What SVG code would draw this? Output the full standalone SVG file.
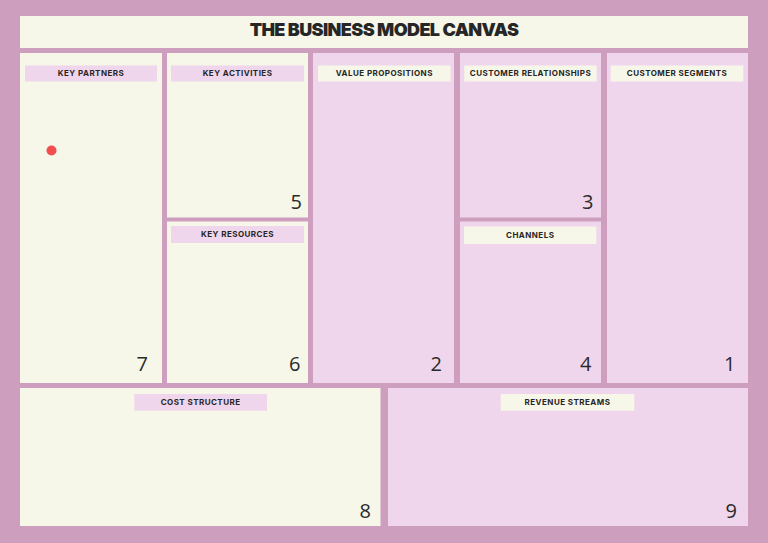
<svg xmlns="http://www.w3.org/2000/svg" width="768" height="543" viewBox="0 0 768 543">
<style>
.cream{fill:#f6f7e9}
.pink{fill:#f0d6ec}
.lbl{font-family:Inter,"Liberation Sans",sans-serif;font-weight:700;font-size:8px;letter-spacing:0.45px;fill:#262626;text-anchor:middle}
.num{font-family:"Open Sans","Liberation Sans",sans-serif;font-weight:400;font-size:20px;fill:#2a2a2a;text-anchor:end}
.title{font-family:Inter,"Liberation Sans",sans-serif;font-weight:900;font-size:18px;letter-spacing:-0.6px;fill:#262626;text-anchor:middle}
</style>
<rect width="768" height="543" fill="#ce9ebe"/>
<g id="title">
<rect class="cream" x="20" y="16" width="728" height="32"/>
<text class="title" x="384" y="36">THE BUSINESS MODEL CANVAS</text>
</g>
<g id="key-partners">
<rect class="cream" x="20" y="53" width="142" height="330"/>
<rect class="pink" x="25" y="65.5" width="132" height="16"/>
<text class="lbl" x="91" y="76.3">KEY PARTNERS</text>
<circle cx="51.5" cy="150.5" r="5" fill="#f24e4e"/>
<text class="num" x="148" y="371">7</text>
</g>
<g id="key-activities">
<rect class="cream" x="167" y="53" width="141" height="164.5"/>
<rect class="pink" x="171" y="65.5" width="133" height="16"/>
<text class="lbl" x="237.5" y="76.3">KEY ACTIVITIES</text>
<text class="num" x="302" y="209">5</text>
</g>
<g id="key-resources">
<rect class="cream" x="167" y="221.5" width="141" height="161.5"/>
<rect class="pink" x="171" y="226" width="133" height="17"/>
<text class="lbl" x="237.5" y="237.3">KEY RESOURCES</text>
<text class="num" x="300.5" y="371">6</text>
</g>
<g id="value-propositions">
<rect class="pink" x="313" y="53" width="141" height="330"/>
<rect class="cream" x="318" y="65.5" width="132.5" height="16"/>
<text class="lbl" x="384.3" y="76.3">VALUE PROPOSITIONS</text>
<text class="num" x="442" y="371">2</text>
</g>
<g id="customer-relationships">
<rect class="pink" x="460" y="53" width="141" height="164.5"/>
<rect class="cream" x="464.3" y="65.5" width="132.4" height="16"/>
<text class="lbl" x="530.5" y="76.3">CUSTOMER RELATIONSHIPS</text>
<text class="num" x="593.5" y="209">3</text>
</g>
<g id="channels">
<rect class="pink" x="460" y="221.5" width="141" height="161.5"/>
<rect class="cream" x="464" y="226.5" width="132.3" height="17.5"/>
<text class="lbl" x="530.2" y="237.8">CHANNELS</text>
<text class="num" x="591.5" y="371">4</text>
</g>
<g id="customer-segments">
<rect class="pink" x="607" y="53" width="141" height="330"/>
<rect class="cream" x="610.7" y="65.5" width="132.6" height="16"/>
<text class="lbl" x="677" y="76.3">CUSTOMER SEGMENTS</text>
<text class="num" x="735.5" y="371">1</text>
</g>
<g id="cost-structure">
<rect class="cream" x="20" y="388" width="360.5" height="138"/>
<rect class="pink" x="134.3" y="394" width="132.7" height="16.7"/>
<text class="lbl" x="200.6" y="405.3">COST STRUCTURE</text>
<text class="num" x="371" y="518">8</text>
</g>
<g id="revenue-streams">
<rect class="pink" x="388" y="388" width="360" height="138"/>
<rect class="cream" x="500.7" y="394" width="133.6" height="16.7"/>
<text class="lbl" x="567.5" y="405.3">REVENUE STREAMS</text>
<text class="num" x="737" y="518">9</text>
</g>
<g id="connectors"></g>
</svg>
